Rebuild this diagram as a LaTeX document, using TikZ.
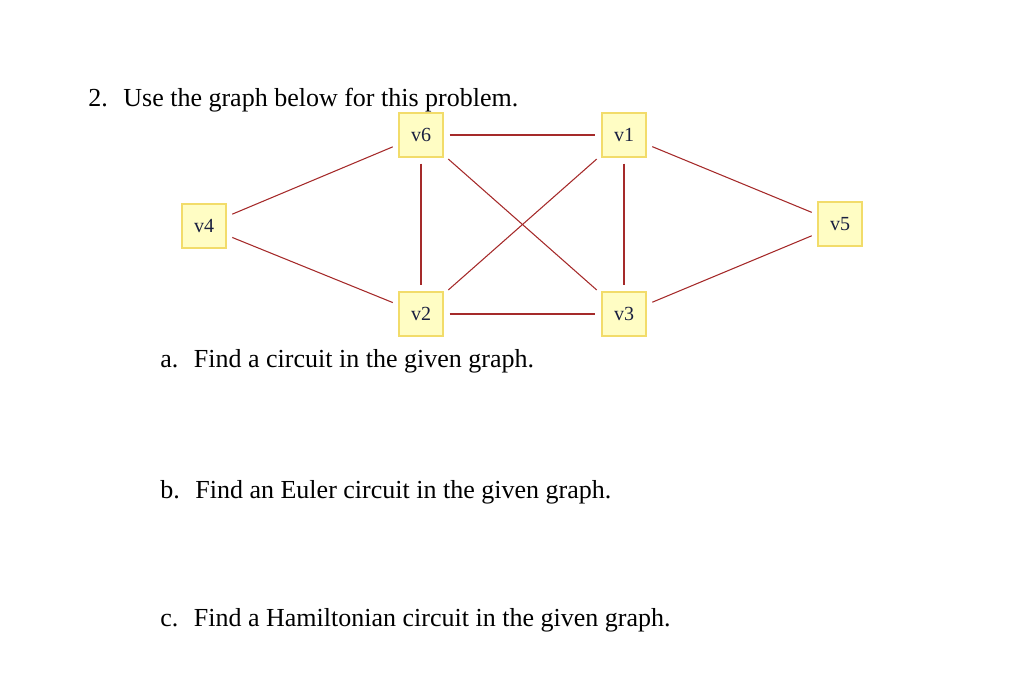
\documentclass[tikz,border=0pt]{standalone}
\usepackage{fontspec}
\setmainfont{Liberation Serif}
\definecolor{boxfill}{HTML}{FFFDC4}
\definecolor{boxline}{HTML}{F2DC6A}
\definecolor{edgered}{HTML}{A52A2A}
\definecolor{labelblue}{HTML}{1A2040}
\begin{document}
\begin{tikzpicture}[
			x=0.75pt, y=-0.75pt,
			vertex/.style={draw=boxline, fill=boxfill, line width=2pt, minimum width=33pt, minimum height=33pt, inner sep=0pt, font=\fontsize{15}{18}\selectfont, text=labelblue},
			link/.style={draw=edgered, line width=0.8pt, shorten <=4pt, shorten >=4pt},
			question/.style={anchor=base west, font=\fontsize{19.5}{23}\selectfont, inner sep=0pt}
			]
			\useasboundingbox (0,0) rectangle (1023,682);
			\node[question] (title) at (88,106) {2.\hspace{0.6em}Use the graph below for this problem.};
			\node[vertex] (v6) at (421,135) {v6};
			\node[vertex] (v1) at (624,135) {v1};
			\node[vertex] (v4) at (204,226) {v4};
			\node[vertex] (v5) at (840,224) {v5};
			\node[vertex] (v2) at (421,314) {v2};
			\node[vertex] (v3) at (624,314) {v3};
			\foreach \a/\b in {v6/v1, v6/v4, v6/v2, v6/v3, v1/v2, v1/v3, v1/v5, v4/v2, v2/v3, v3/v5}
				\draw[link] (\a) -- (\b);
			\node[question] (parta) at (160,367) {a.\hspace{0.6em}Find a circuit in the given graph.};
			\node[question] (partb) at (160,498) {b.\hspace{0.6em}Find an Euler circuit in the given graph.};
			\node[question] (partc) at (160,626) {c.\hspace{0.6em}Find a Hamiltonian circuit in the given graph.};
		\end{tikzpicture}
\end{document}
